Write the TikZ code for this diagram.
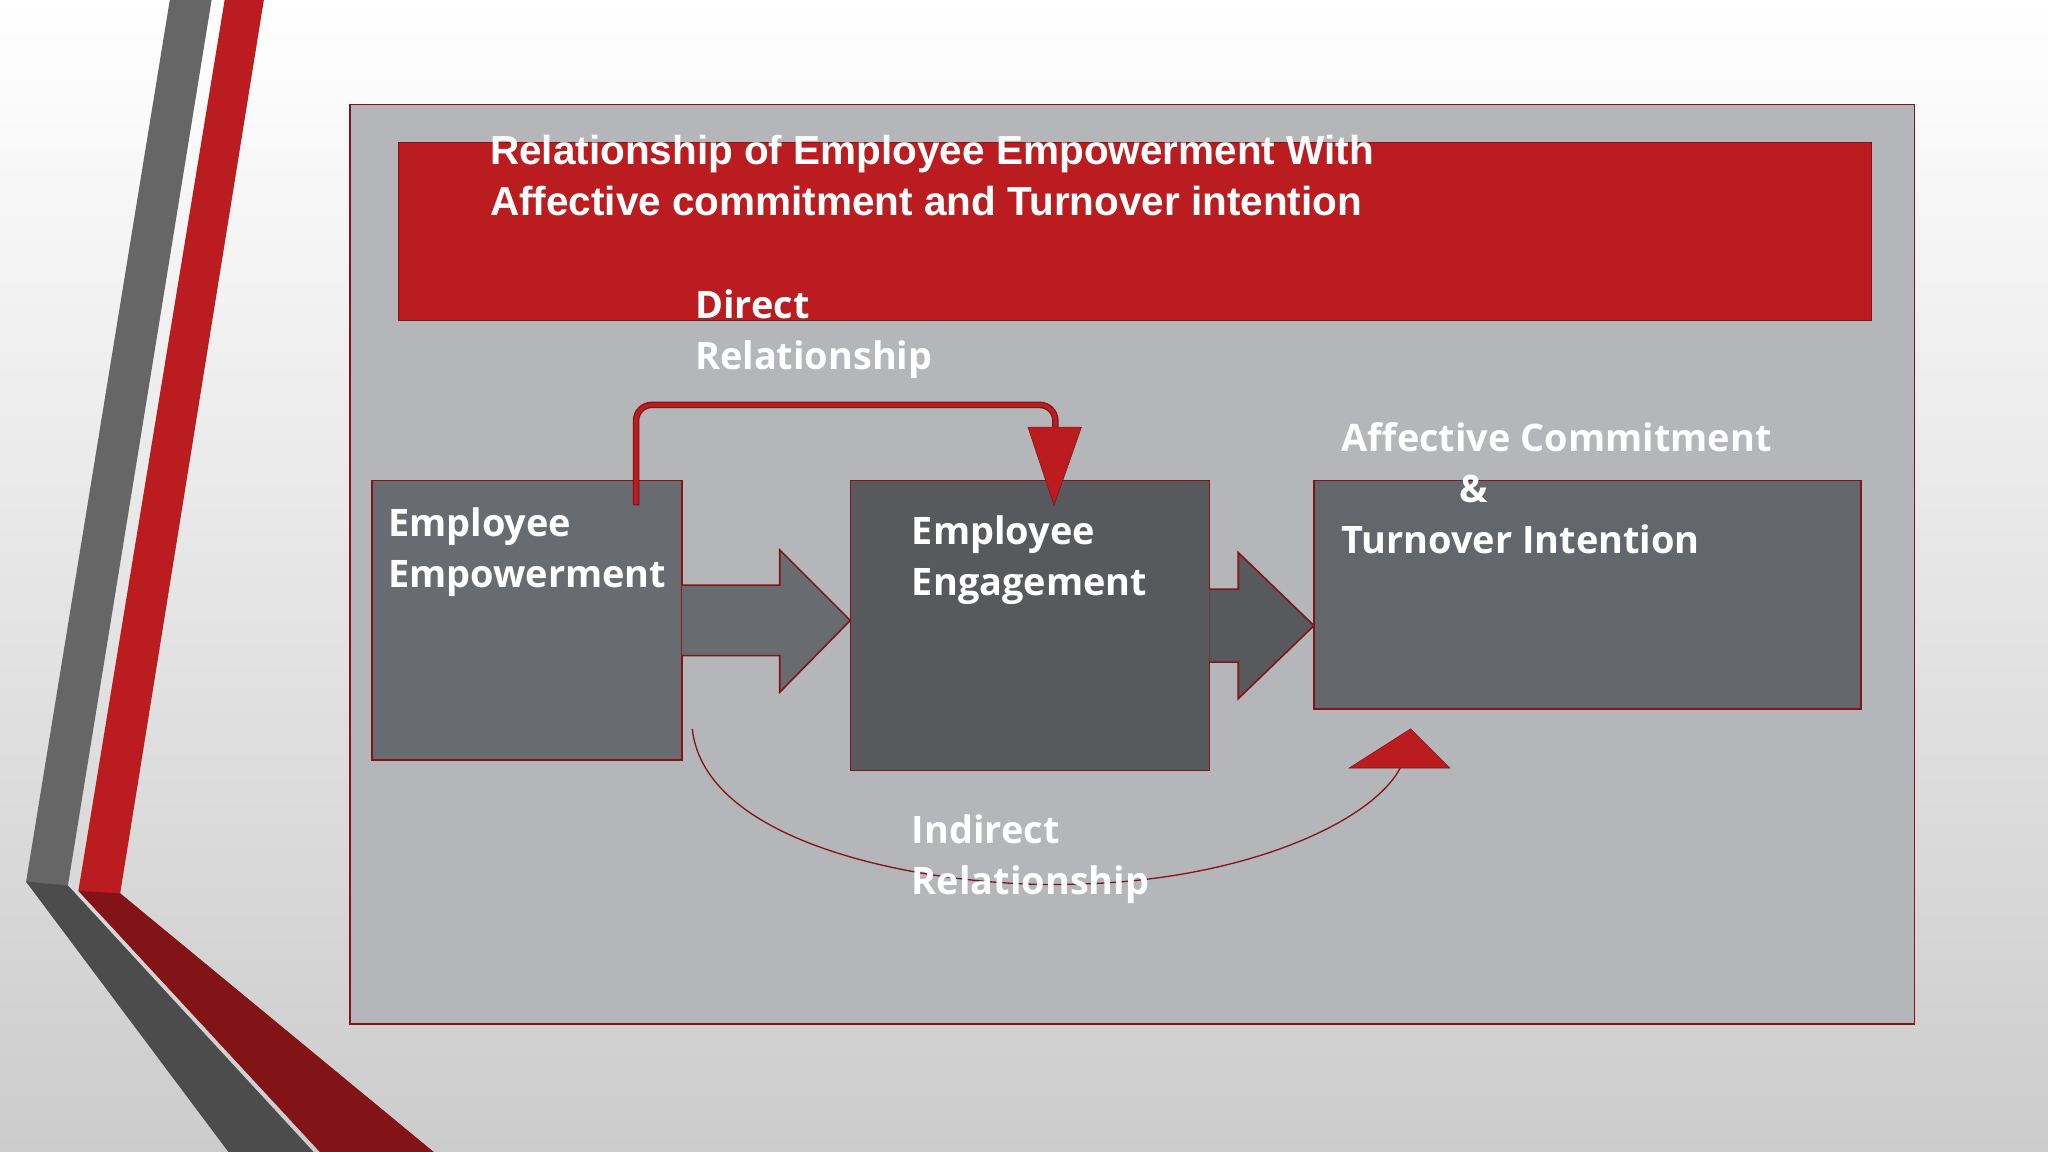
\documentclass[tikz,border=0pt]{standalone}
\usepackage{fontspec}
\setmainfont{Open Sans}
\newfontfamily\titlefont{Liberation Sans}
\definecolor{myred}{RGB}{187,28,32}
\definecolor{dk}{RGB}{130,20,24}
\definecolor{panel}{RGB}{180,182,185}
\definecolor{g1}{RGB}{104,107,112}
\definecolor{g2}{RGB}{88,89,92}
\definecolor{g3}{RGB}{99,102,106}
\begin{document}
\begin{tikzpicture}[x=1pt,y=-1pt,
  txt/.style={text=white,font=\bfseries\fontsize{29}{39}\selectfont,anchor=base west,inner sep=0pt,align=left},
  boxa/.style={draw=dk,line width=1.2pt}]
\useasboundingbox (0,0) rectangle (1568,882);
\shade[top color=white,bottom color=gray!40] (0,0) rectangle (1568,882);
% stripes
\fill[gray!80!black] (130,0)--(162,0)--(52,678)--(240,882)--(175,882)--(20,675)--cycle;
\fill[myred] (172,0)--(202,0)--(92,684)--(332,882)--(245,882)--(60,682)--cycle;
\fill[black!70] (20,675)--(52,678)--(240,882)--(175,882)--cycle;
\fill[dk] (60,682)--(92,684)--(332,882)--(245,882)--cycle;
% panel
\filldraw[fill=panel,draw=dk,line width=1pt] (268,80) rectangle (1466,784);
\filldraw[fill=myred,draw=dk] (305,109) rectangle (1433,245);
\node[txt,font=\titlefont\bfseries\fontsize{31}{39}\selectfont] (title) at (375,165) {Relationship of Employee Empowerment With\\Affective commitment and Turnover intention};
% boxes
\filldraw[boxa,fill=g1] (285,368) rectangle (522,582);
\filldraw[boxa,fill=g2] (651,368) rectangle (926,590);
\filldraw[boxa,fill=g3] (1006,368) rectangle (1425,543);
% block arrows
\filldraw[boxa,fill=g1] (522,448)--(597,448)--(597,421)--(651,475)--(597,530)--(597,502)--(522,502);
\filldraw[boxa,fill=g2] (926,451)--(948,451)--(948,423)--(1006,479)--(948,535)--(948,507)--(926,507);
\node[txt] (e1) at (297,450) {Employee\\Empowerment};
\node[txt] (e2) at (698,456) {Employee\\Engagement};
\node[txt] (e3) at (1027,424) {Affective Commitment\\\hspace*{90pt}\&\\Turnover Intention};
% direct
\draw[dk,line width=5pt,rounded corners=12pt] (487,387)--(487,310)--(808,310)--(808,330);
\draw[myred,line width=3pt,rounded corners=12pt] (487,386)--(487,310)--(808,310)--(808,330);
\filldraw[fill=myred,draw=dk] (787,327)--(828,327)--(807,387)--cycle;
\node[txt] (d) at (532,283) {Direct\\Relationship};
% indirect
\draw[dk,line width=1pt] (530,558) .. controls (540,650) and (720,680) .. (820,677) .. controls (950,675) and (1050,630) .. (1072,588);
\filldraw[fill=myred,draw=dk] (1033,588)--(1110,588)--(1080,558)--cycle;
\node[txt] (i) at (698,685) {Indirect\\Relationship};
\end{tikzpicture}
\end{document}
